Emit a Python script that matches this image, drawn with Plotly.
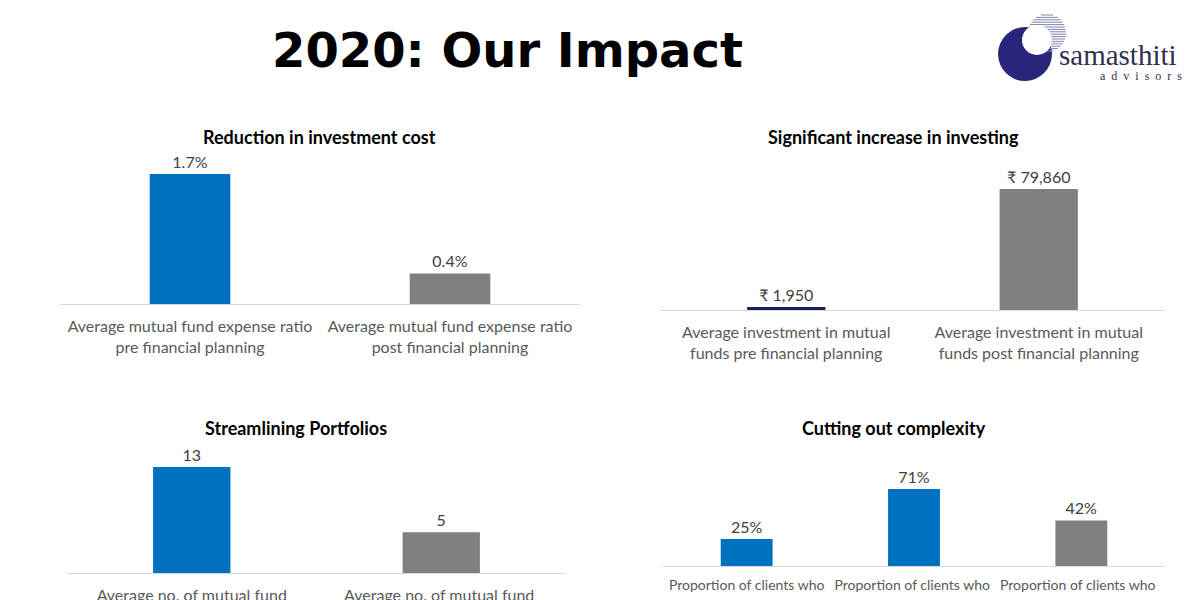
import math
import plotly.graph_objects as go

# The page adds an 8px body margin around the figure; coordinates below are page pixels.
W, H = 1200, 600
OX, OY = 8, 8

BLUE = "#0070C0"
GRAY = "#808080"
NAVY = "#1B1F5E"
TXT = "#595959"
FONT = "Lato, 'DejaVu Sans', sans-serif"

# ---------------- data ----------------
p1_title = "Reduction in investment cost"
p1_cats = ["Average mutual fund expense ratio<br>pre financial planning",
           "Average mutual fund expense ratio<br>post financial planning"]
p1_vals = [1.7, 0.4]
p1_colors = [BLUE, GRAY]

p2_title = "Significant increase in investing"
p2_cats = ["Average investment in mutual<br>funds pre financial planning",
           "Average investment in mutual<br>funds post financial planning"]
p2_vals = [1950, 79860]
p2_colors = [NAVY, GRAY]

p3_title = "Streamlining Portfolios"
p3_cats = ["Average no. of mutual fund", "Average no. of mutual fund "]
p3_vals = [13, 5]
p3_colors = [BLUE, GRAY]

p4_title = "Cutting out complexity"
p4_cats = ["Proportion of clients who", "Proportion of clients who ", "Proportion of clients who  "]
p4_vals = [25, 71, 42]
p4_colors = [BLUE, BLUE, GRAY]

main_title = "2020: Our Impact"


def px(x):
    return (x - OX) / W


def py(y):
    return 1 - (y - OY) / H


# ---------------- layout geometry (page pixels) ----------------
panels = [
    dict(cats=p1_cats, vals=p1_vals, colors=p1_colors, tmpl="%{y:.1f}%", title=p1_title,
         left=60, right=580, top=150, axis=304, barpx=130, tfs=16, tx=319, ty=137, standoff=8),
    dict(cats=p2_cats, vals=p2_vals, colors=p2_colors, tmpl="₹ %{y:,}", title=p2_title,
         left=660, right=1165, top=150, axis=310, barpx=121, tfs=16, tx=893, ty=137, standoff=8),
    dict(cats=p3_cats, vals=p3_vals, colors=p3_colors, tmpl="%{y}", title=p3_title,
         left=67, right=566, top=440, axis=573, barpx=106, tfs=16, tx=296, ty=428, standoff=8),
    dict(cats=p4_cats, vals=p4_vals, colors=p4_colors, tmpl="%{y}%", title=p4_title,
         left=663, right=1165, top=440, axis=566, barpx=77, tfs=14, tx=894, ty=428, standoff=6),
]

fig = go.Figure()
annotations = []
for i, p in enumerate(panels):
    n = i + 1
    xa = "x" if n == 1 else f"x{n}"
    ya = "y" if n == 1 else f"y{n}"
    fig.add_trace(go.Bar(
        x=p["cats"], y=p["vals"], marker=dict(color=p["colors"], line=dict(width=0)),
        width=0.31, texttemplate=p["tmpl"], textposition="outside", cliponaxis=False,
        textfont=dict(family=FONT, size=16, color="#404040"),
        xaxis=xa, yaxis=ya, showlegend=False, hoverinfo="skip"))
    ymax = max(p["vals"]) * (p["axis"] - p["top"]) / p["barpx"]
    fig.update_layout(**{
        ("xaxis" if n == 1 else f"xaxis{n}"): dict(
            domain=[px(p["left"]), px(p["right"])], anchor=ya, type="category",
            showline=True, linecolor="#D9D9D9", linewidth=1, showgrid=False,
            zeroline=False, ticks="", ticklabelstandoff=p["standoff"], automargin=False,
            tickfont=dict(family=FONT, size=p["tfs"], color=TXT), fixedrange=True),
        ("yaxis" if n == 1 else f"yaxis{n}"): dict(
            domain=[py(p["axis"]), py(p["top"])], anchor=xa, automargin=False,
            range=[0, ymax], visible=False, fixedrange=True),
    })
    annotations.append(dict(
        text=f"<b>{p['title']}</b>", x=px(p["tx"]), y=py(p["ty"]),
        xref="paper", yref="paper", xanchor="center", yanchor="middle",
        showarrow=False, font=dict(family=FONT, size=18, color="#000000")))

annotations.append(dict(
    text=f"<b>{main_title}</b>", x=px(507), y=py(50), xref="paper", yref="paper",
    xanchor="center", yanchor="middle", showarrow=False,
    font=dict(family="DejaVu Sans", size=48, color="#000000")))

# logo text
annotations.append(dict(
    text="samasthiti", x=px(1118), y=py(55), xref="paper", yref="paper",
    xanchor="center", yanchor="middle", showarrow=False,
    font=dict(family="Liberation Serif", size=29, color="#2F2F4F")))
annotations.append(dict(
    text="a  d  v  i  s  o  r  s", x=px(1141), y=py(76), xref="paper", yref="paper",
    xanchor="center", yanchor="middle", showarrow=False,
    font=dict(family="Liberation Serif", size=12, color="#2F2F4F")))


def circ(cx, cy, r, color):
    return dict(type="circle", xref="paper", yref="paper",
                x0=px(cx - r), x1=px(cx + r), y0=py(cy + r), y1=py(cy - r),
                fillcolor=color, line=dict(width=0), layer="above")


shapes = [circ(1025, 54, 27, "#27267A")]
# hatched circle of the logo
hcx, hcy, hr = 1047, 33, 19
yy = -hr + 1.0
while yy < hr:
    half = math.sqrt(hr * hr - yy * yy)
    shapes.append(dict(type="line", xref="paper", yref="paper",
                       x0=px(hcx - half), x1=px(hcx + half), y0=py(hcy + yy), y1=py(hcy + yy),
                       line=dict(color="#7F84B0", width=1), layer="above"))
    yy += 2.4
shapes.append(circ(1037, 40, 15, "#FFFFFF"))

fig.update_layout(
    width=W, height=H, margin=dict(l=0, r=0, t=0, b=0, autoexpand=False),
    paper_bgcolor="white", plot_bgcolor="white",
    annotations=annotations, shapes=shapes,
)

fig.write_html("out.html", config={"displayModeBar": False})
